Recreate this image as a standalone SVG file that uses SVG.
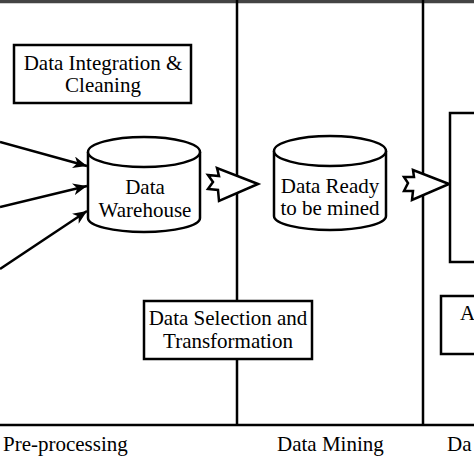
<svg xmlns="http://www.w3.org/2000/svg" width="474" height="474" viewBox="0 0 474 474">
<style>
.ln{stroke:#000;stroke-width:2.5;fill:none}
.bx{stroke:#000;stroke-width:2.5;fill:#fff}
.t{font-family:"Liberation Serif","Times New Roman",serif;font-size:21px;fill:#000}
.c{text-anchor:middle}
</style>
<defs>
<marker id="ah" markerUnits="userSpaceOnUse" markerWidth="16" markerHeight="12" refX="14" refY="6" orient="auto">
<path d="M0,0 L14,6 L0,12 L4,6 Z" fill="#000"/>
</marker>
</defs>
<rect width="474" height="474" fill="#fff"/>
<g id="frame">
<line x1="0" y1="1.5" x2="474" y2="1.5" stroke="#444" stroke-width="3.5"/>
<line class="ln" x1="237" y1="0" x2="237" y2="425"/>
<line class="ln" x1="423" y1="0" x2="423" y2="425"/>
<line class="ln" x1="0" y1="425" x2="474" y2="425"/>
</g>
<g id="connectors">
<line class="ln" x1="0" y1="142" x2="87" y2="166" marker-end="url(#ah)"/>
<line class="ln" x1="0" y1="207" x2="87" y2="186" marker-end="url(#ah)"/>
<line class="ln" x1="0" y1="269" x2="87" y2="211" marker-end="url(#ah)"/>
<polygon class="bx" points="258,184 217,168 219,176 208,175 213,182 208,189 218,190 219,201"/>
<polygon class="bx" points="449,184 413,170 414,177 404,177 408,183 404,191 413,191 412,200"/>
</g>
<g id="integration">
<rect class="bx" x="14" y="45" width="177" height="58"/>
<text class="t c" x="103" y="70">Data Integration &amp;</text>
<text class="t c" x="103" y="92">Cleaning</text>
</g>
<g id="warehouse">
<path class="bx" d="M88,152 V218 A56,14 0 0 0 200,218 V152"/>
<ellipse class="bx" cx="144" cy="152" rx="56" ry="15"/>
<text class="t c" x="145" y="194">Data</text>
<text class="t c" x="145" y="217">Warehouse</text>
</g>
<g id="ready">
<path class="bx" d="M274,151 V216 A56,14 0 0 0 386,216 V151"/>
<ellipse class="bx" cx="330" cy="151" rx="56" ry="15"/>
<text class="t c" x="330" y="193">Data Ready</text>
<text class="t c" x="330" y="215">to be mined</text>
</g>
<g id="selection">
<rect class="bx" x="144" y="301" width="168" height="58"/>
<text class="t c" x="228" y="325">Data Selection and</text>
<text class="t c" x="228" y="348">Transformation</text>
</g>
<g id="rightbox">
<rect class="bx" x="450" y="113" width="40" height="149"/>
</g>
<g id="abox">
<rect class="bx" x="441" y="296" width="50" height="58"/>
<text class="t" x="460" y="320">A</text>
</g>
<g id="labels">
<text class="t" x="3" y="451">Pre-processing</text>
<text class="t" x="277" y="451">Data Mining</text>
<text class="t" x="447" y="451">Da</text>
</g>
</svg>
